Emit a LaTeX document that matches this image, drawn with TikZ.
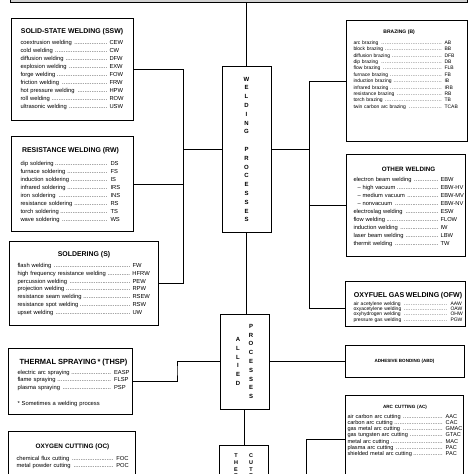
\documentclass[tikz,border=0pt]{standalone}
\usepackage{fontspec}
\setmainfont{Liberation Sans}
\usetikzlibrary{fit}

\newlength\abw
\newcommand\dotlead{\kern1pt\leaders\hbox to 1.3pt{\hss.\hss}\hskip 0pt plus 1fill\kern1.5pt}
\newcommand\pe[2]{#1\dotlead\makebox[\abw][l]{#2}}
\newcommand\ttl[2]{\makebox[\linewidth]{\bfseries\fontsize{#1}{#1}\selectfont #2}}

\tikzset{every picture/.style={line width=0.75pt}}
\tikzset{
  box/.style={draw, inner sep=0pt},
  lst/.style={anchor=base west, inner sep=0pt, align=left, text width=#1},
  abw/.code={\setlength\abw{#1}},
  vtxt/.style={font={\bfseries\fontsize{4.5}{6.6}\selectfont}}
}

\begin{document}
\begin{tikzpicture}[x=0.75pt,y=0.75pt,yscale=-1,xscale=1]
\path[use as bounding box, fill=white] (0,0) rectangle (474,474);

%Shape: Rectangle
\node[box, fill=gray!35, fit={(10,-30) (467,3)}] (mc) {};
%Shape: Rectangle
\node[box, vtxt, minimum width=36.75pt, minimum height=123.75pt] (wp) at (246.5,149.5) {\parbox[c]{8pt}{\centering W\\E\\L\\D\\I\\N\\G\\[6.6pt]P\\R\\O\\C\\E\\S\\S\\E\\S}};
%Shape: Rectangle
\node[box, vtxt, minimum width=36.75pt, minimum height=71.25pt] (ap) at (244.5,361.5) {\parbox[c]{8pt}{\centering A\\L\\L\\I\\E\\D}\hspace{1.75pt}\parbox[c]{8pt}{\centering P\\R\\O\\C\\E\\S\\S\\E\\S}};
%Shape: Rectangle
\node[box, font={\bfseries\fontsize{4.1}{5}\selectfont}, minimum width=36.75pt, minimum height=46.5pt] (thc) at (243.5,476) {\parbox[c]{8pt}{\centering T\\H\\E\\R\\M\\A\\L}\hspace{3.25pt}\parbox[c]{8pt}{\centering C\\U\\T\\T\\I\\N\\G}};

%Shape: Rectangle
\node[box, fit={(11,19) (133,121)}] (ssw) {};
%Shape: Rectangle
\node[box, fit={(11,137) (133,231)}] (rw) {};
%Shape: Rectangle
\node[box, fit={(9,241) (158,325)}] (sol) {};
%Shape: Rectangle
\node[box, fit={(8,348) (132,414)}] (thsp) {};
%Shape: Rectangle
\node[box, fit={(8,431) (135,531)}] (oc) {};
%Shape: Rectangle
\node[box, fit={(346,21) (467,142)}] (brz) {};
%Shape: Rectangle
\node[box, fit={(346,154) (465,256)}] (ow) {};
%Shape: Rectangle
\node[box, fit={(345,281) (465,326)}] (ofw) {};
%Shape: Rectangle
\node[box, font={\bfseries\fontsize{3.4}{4}\selectfont}, minimum width=89.25pt, minimum height=24pt] (abd) at (404.5,361) {ADHESIVE BONDING (ABD)};
%Shape: Rectangle
\node[box, fit={(345,395) (463,483)}] (ac) {};

\coordinate (lbus) at (183,0);
\coordinate (rbus) at (309,0);
\coordinate (lk) at (177,370);
\coordinate (acl) at (306,480);
\coordinate (ofwj) at ([yshift=3.4pt]ofw.west);

%Straight Lines
\draw (mc.south -| wp.north) -- (wp.north);
\draw (wp.west) -- (wp.west -| lbus);
\draw (ssw.east) -| (sol.east -| lbus) -- (sol.east);
\draw (rw.east) -- (rw.east -| lbus);
\draw (wp.east) -- (wp.east -| rbus);
\draw (brz.west) -| (ofwj -| rbus) -- (ofwj);
\draw (ow.west) -- (ow.west -| rbus);
\draw (wp.south) -- (wp.south |- ap.north);
\draw (ap.south) -- (ap.south |- thc.north);
\draw (ap.west) -| (lk) |- (thsp.east);
\draw (ap.east) -- (ap.east -| abd.west);
\draw (acl) |- (ac.west);

% Text Node
\node[lst=77.25pt, abw=10.5pt, font={\fontsize{4.35}{6}\selectfont}] (ssw-t) at (20,33.5) {\ttl{5.2}{SOLID-STATE WELDING (SSW)}\\[2.25pt]
\pe{coextrusion welding}{CEW}\\
\pe{cold welding}{CW}\\
\pe{diffusion welding}{DFW}\\
\pe{explosion welding}{EXW}\\
\pe{forge welding}{FOW}\\
\pe{friction welding}{FRW}\\
\pe{hot pressure welding}{HPW}\\
\pe{roll welding}{ROW}\\
\pe{ultrasonic welding}{USW}};
% Text Node
\node[lst=75pt, abw=7.5pt, font={\fontsize{4.35}{6}\selectfont}] (rw-t) at (20,152.5) {\ttl{5.2}{RESISTANCE WELDING (RW)}\\[3.75pt]
\pe{dip soldering}{DS}\\
\pe{furnace soldering}{FS}\\
\pe{induction soldering}{IS}\\
\pe{infrared soldering}{IRS}\\
\pe{iron soldering}{INS}\\
\pe{resistance soldering}{RS}\\
\pe{torch soldering}{TS}\\
\pe{wave soldering}{WS}};
% Text Node
\node[lst=99.75pt, abw=13.5pt, font={\fontsize{4.35}{5.93}\selectfont}] (sol-t) at (17,256.5) {\ttl{5.2}{SOLDERING (S)}\\[2.1pt]
\pe{flash welding}{FW}\\
\pe{high frequency resistance welding}{HFRW}\\
\pe{percussion welding}{PEW}\\
\pe{projection welding}{RPW}\\
\pe{resistance seam welding}{RSEW}\\
\pe{resistance spot welding}{RSW}\\
\pe{upset welding}{UW}};
% Text Node
\node[lst=84pt, abw=11.6pt, font={\fontsize{4.35}{5.63}\selectfont}] (thsp-t) at (17,364.5) {\ttl{5.6}{THERMAL SPRAYING\,* (THSP)}\\[1.65pt]
\pe{electric arc spraying}{EASP}\\
\pe{flame spraying}{FLSP}\\
\pe{plasma spraying}{PSP}\\[6.8pt]
* Sometimes a welding process};
% Text Node
\node[lst=84pt, abw=9.2pt, font={\fontsize{4.35}{5}\selectfont}] (oc-t) at (16,448) {\ttl{4.8}{OXYGEN CUTTING (OC)}\\[4.6pt]
\pe{chemical flux cutting}{FOC}\\
\pe{metal powder cutting}{POC}};

% Text Node
\node[lst=82.5pt, abw=14.25pt, font={\fontsize{3.75}{4.8}\selectfont}] (brz-t) at (353,33.8) {\makebox[\linewidth]{\bfseries\fontsize{3.75}{3.75}\selectfont BRAZING (B)\hspace*{14pt}}\\[3.1pt]
\pe{arc brazing}{AB}\\
\pe{block brazing}{BB}\\
\pe{diffusion brazing}{DFB}\\
\pe{dip brazing}{DB}\\
\pe{flow brazing}{FLB}\\
\pe{furnace brazing}{FB}\\
\pe{induction brazing}{IB}\\
\pe{infrared brazing}{IRB}\\
\pe{resistance brazing}{RB}\\
\pe{torch brazing}{TB}\\
\pe{twin carbon arc brazing}{TCAB}};
% Text Node
\node[lst=82.5pt, abw=17.2pt, font={\fontsize{4.3}{6}\selectfont}] (ow-t) at (353,171.3) {\ttl{4.7}{OTHER WELDING}\\[1.65pt]
\pe{electron beam welding}{EBW}\\
\pe{\hspace*{3pt}-- high vacuum}{EBW-HV}\\
\pe{\hspace*{3pt}-- medium vacuum}{EBW-MV}\\
\pe{\hspace*{3pt}-- nonvacuum}{EBW-NV}\\
\pe{electroslag welding}{ESW}\\
\pe{flow welding}{FLOW}\\
\pe{induction welding}{IW}\\
\pe{laser beam welding}{LBW}\\
\pe{thermit welding}{TW}};
% Text Node
\node[lst=81.75pt, abw=9pt, font={\fontsize{3.75}{4}\selectfont}] (ofw-t) at (353,297.7) {\ttl{5.3}{OXYFUEL GAS WELDING (OFW)}\\[1.7pt]
\pe{air acetylene welding}{AAW}\\
\pe{oxyacetylene welding}{OAW}\\
\pe{oxyhydrogen welding}{OHW}\\
\pe{pressure gas welding}{PGW}};
% Text Node
\node[lst=86.25pt, abw=12.6pt, font={\fontsize{4.2}{4.6}\selectfont}] (ac-t) at (347,408.6) {\ttl{3.45}{ARC CUTTING (AC)}\\[2.8pt]
\pe{air carbon arc cutting}{AAC}\\
\pe{carbon arc cutting}{CAC}\\
\pe{gas metal arc cutting}{GMAC}\\
\pe{gas tungsten arc cutting}{GTAC}\\
\pe{metal arc cutting}{MAC}\\
\pe{plasma arc cutting}{PAC}\\
\pe{shielded metal arc cutting}{PAC}};

\end{tikzpicture}
\end{document}
